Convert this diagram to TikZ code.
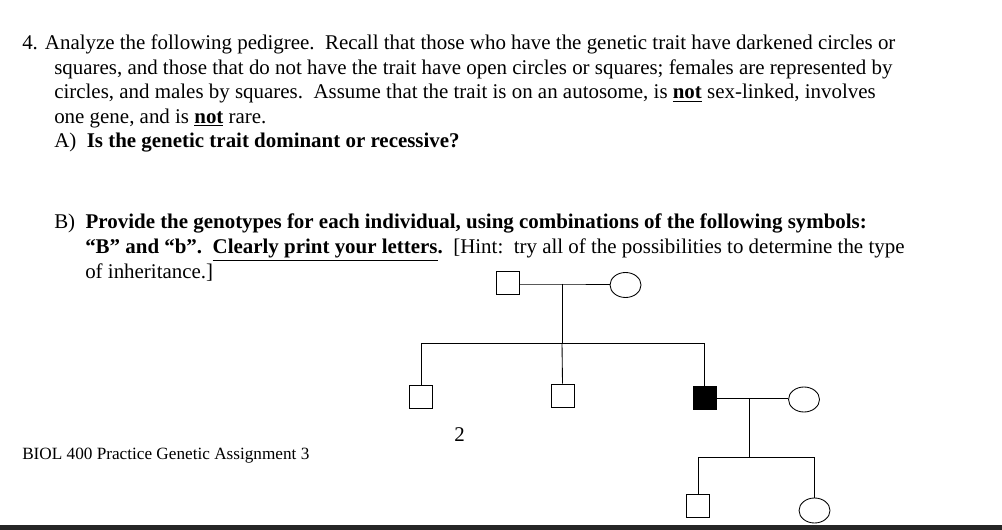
\documentclass[tikz,border=0pt]{standalone}
\usepackage{fontspec}
\setmainfont{Liberation Serif}
\usetikzlibrary{shapes.geometric}
\begin{document}
\begin{tikzpicture}[x=0.75pt,y=-0.75pt,
  txt/.style={anchor=base west,inner sep=0pt,font=\fontsize{15.7pt}{18pt}\selectfont},
  male/.style={draw,line width=0.65pt,minimum width=23*0.75pt,minimum height=23*0.75pt,inner sep=0pt},
  aff/.style={male,fill=black},
  fem/.style={draw,line width=0.65pt,ellipse,minimum width=31*0.75pt,minimum height=25*0.75pt,inner sep=0pt},
  ln/.style={line width=0.65pt}]
\useasboundingbox (0,0) rectangle (1002,530);
\fill[black!85] (0,525) rectangle (1002,530);
\node[txt] (l1) at (22,50) {4. Analyze the following pedigree.\ \ Recall that those who have the genetic trait have darkened circles or};
\node[txt] (l2) at (54,74.5) {squares, and those that do not have the trait have open circles or squares; females are represented by};
\node[txt] (l3) at (54,99) {circles, and males by squares.\ \ Assume that the trait is on an autosome, is \underline{\textbf{not}} sex-linked, involves};
\node[txt] (l4) at (54,123.5) {one gene, and is \underline{\textbf{not}} rare.};
\node[txt] (l5) at (54,148) {A)\ \ \textbf{Is the genetic trait dominant or recessive?}};
\node[txt] (b1) at (54,229) {B)\ \ \textbf{Provide the genotypes for each individual, using combinations of the following symbols:}};
\node[txt] (b2) at (85,254) {\textbf{“B” and “b”.\ \ \underline{Clearly print your letters}.}\ \ [Hint:\ \ try all of the possibilities to determine the type};
\node[txt] (b3) at (85,279) {of inheritance.]};
\node[txt,font=\fontsize{12.9pt}{15pt}\selectfont] (foot) at (22,459) {BIOL 400 Practice Genetic Assignment 3};
\node[txt] (two) at (454,441) {2};
% generation I
\node[male] (f1) at (507.5,282.5) {};
\node[fem] (m1) at (625.5,285) {};
\coordinate (c1) at (562,284);
\coordinate (s1) at (562,343);
\draw[ln] (f1.east |- c1) -- (c1) -- (m1.west |- c1);
\draw[ln] (c1) -- (s1);
% generation II
\node[male] (a) at (421,397) {};
\node[male] (b) at (562.5,395.5) {};
\node[aff] (c) at (704.5,397.5) {};
\node[fem] (w) at (804,399.5) {};
\coordinate (sl) at (421,343);
\coordinate (sr) at (704.5,343);
\draw[ln] (a.north) -- (sl) -- (sr) -- (c.north);
\draw[ln] (s1) -- (b.north);
\coordinate (c2) at (749,398);
\coordinate (s2) at (749,457);
\draw[ln] (c.east |- c2) -- (w.west |- c2);
\draw[ln] (c2) -- (s2);
% generation III
\node[male] (d) at (698,506) {};
\node[fem] (e) at (814.5,510.5) {};
\draw[ln] (d.north) -- (d.north |- s2) -- (e.north |- s2) -- (e.north);
\end{tikzpicture}
\end{document}
